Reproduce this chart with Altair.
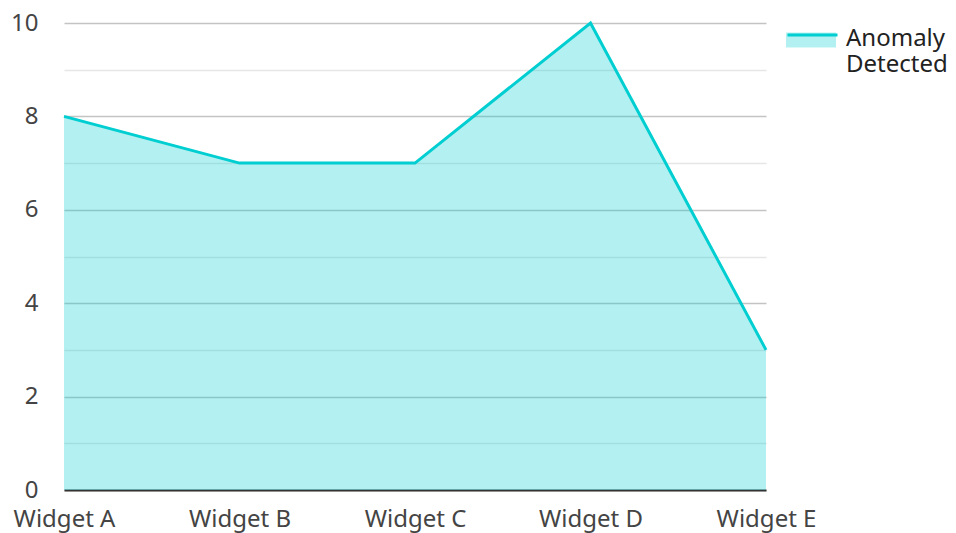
import altair as alt
import pandas as pd

categories = ["Widget A", "Widget B", "Widget C", "Widget D", "Widget E"]
values = [8, 7, 7, 10, 3]
series_name = "Anomaly Detected"

df = pd.DataFrame({"widget": categories, "value": values, "series": [series_name] * len(categories)})

FONT = "Noto Sans"
TEAL = "#00CED1"

x_enc = alt.X(
    "widget:N",
    sort=categories,
    scale=alt.Scale(type="point", padding=0),
    axis=alt.Axis(
        title=None, labelAngle=0, ticks=False, grid=False,
        domainColor="#333333", domainWidth=2,
        labelFont=FONT, labelFontSize=24, labelColor="#444444", labelPadding=17,
    ),
)
y_enc = alt.Y(
    "value:Q",
    scale=alt.Scale(domain=[0, 10], nice=False),
    axis=alt.Axis(
        title=None, values=list(range(11)), domain=False, ticks=False,
        labelExpr="datum.value % 2 === 0 ? datum.label : ''",
        gridColor={"condition": {"test": "datum.value % 2 === 0", "value": "#c4c4c4"}, "value": "#e6e6e6"},
        gridWidth=1.3,
        labelFont=FONT, labelFontSize=24, labelColor="#444444", labelPadding=26,
    ),
)

area = alt.Chart(df).mark_area(fillOpacity=0.3).encode(
    x=x_enc, y=y_enc,
    fill=alt.Fill(
        "series:N",
        scale=alt.Scale(range=[TEAL]),
        legend=alt.Legend(
            title=None, orient="none", legendX=722, legendY=-9,
            symbolType="M-1,-0.26 L1,-0.26 L1,0.34 L-1,0.34 Z", symbolSize=2500,
            symbolStrokeWidth=0, symbolOpacity=0.3,
            labelExpr="split(datum.label, ' ')",
            labelFont=FONT, labelFontSize=24, labelColor="#222222", labelOffset=10, labelLimit=300,
        ),
    ),
)

line = alt.Chart(df).mark_line(strokeWidth=3).encode(
    x=x_enc, y=y_enc,
    stroke=alt.Stroke(
        "series:N",
        scale=alt.Scale(range=[TEAL]),
        legend=alt.Legend(
            title=None, orient="none", legendX=722, legendY=-9,
            symbolType="M-1,-0.22 L1,-0.22", symbolSize=2500,
            symbolStrokeWidth=3, symbolFillColor="transparent",
            labelExpr="split(datum.label, ' ')", labelOpacity=0,
            labelFont=FONT, labelFontSize=24, labelOffset=10, labelLimit=300,
        ),
    ),
)

chart = (
    alt.layer(area, line)
    .resolve_legend(fill="independent", stroke="independent")
    .properties(
        width=702, height=467,
        autosize=alt.AutoSizeParams(type="none"),
        padding={"left": 56, "top": 15, "right": 182, "bottom": 45},
    )
    .configure_view(strokeWidth=0)
)

chart.save("out.html", embed_options={"renderer": "svg", "actions": False})
